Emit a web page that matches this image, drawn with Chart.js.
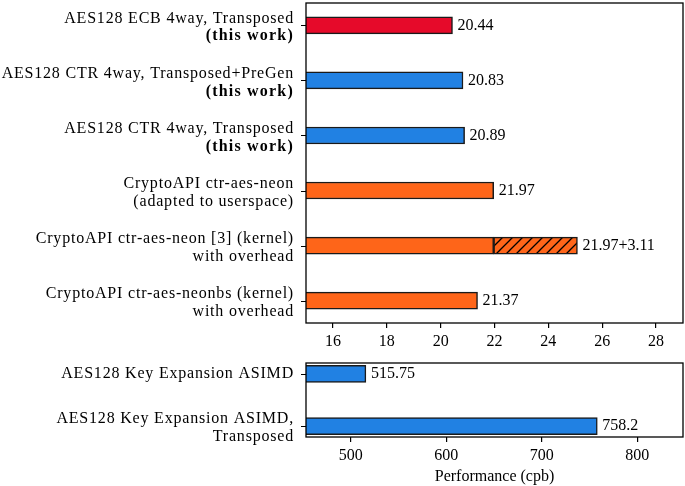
<!DOCTYPE html>
<html lang="en">
<head>
  <meta charset="UTF-8" />
  <title>AES128 performance</title>
  <script src="https://cdn.jsdelivr.net/npm/chart.js"></script>
  <style>
    body { margin: 0; background: #fff; }
    .panel { position: absolute; left: 0; }
  </style>
</head>
<body>
  <div class="panel" style="top:0"><canvas id="topChart" width="685" height="360"></canvas></div>
  <div class="panel" style="top:360px"><canvas id="bottomChart" width="685" height="126"></canvas></div>

  <script>
    // Daten (oberes Panel)
    const topLabels = [
      ['AES128 ECB 4way, Transposed', '(this work)'],
      ['AES128 CTR 4way, Transposed+PreGen', '(this work)'],
      ['AES128 CTR 4way, Transposed', '(this work)'],
      ['CryptoAPI ctr-aes-neon', '(adapted to userspace)'],
      ['CryptoAPI ctr-aes-neon [3] (kernel)', 'with overhead'],
      ['CryptoAPI ctr-aes-neonbs (kernel)', 'with overhead']
    ];
    const topThisWork = [true, true, true, false, false, false];
    const topValues = [20.44, 20.83, 20.89, 21.97, 21.97, 21.37];
    const overheadIndex = 4;
    const overheadValue = 3.11;
    const topTicks = [16, 18, 20, 22, 24, 26, 28];

    // Daten (unteres Panel)
    const bottomLabels = [
      ['AES128 Key Expansion ASIMD'],
      ['AES128 Key Expansion ASIMD,', 'Transposed']
    ];
    const bottomValues = [515.75, 758.2];
    const bottomTicks = [500, 600, 700, 800];

    const RED = '#e60a2a', BLUE = '#2181e3', ORANGE = '#fe6519', EDGE = '#1a1a1a';
    const topColors = [RED, BLUE, BLUE, ORANGE, ORANGE, ORANGE];
    const FONT = '"Liberation Serif", "Times New Roman", serif';

    // Schraffur fuer den Overhead-Anteil
    function hatchPattern() {
      const c = document.createElement('canvas');
      c.width = 10; c.height = 10;
      const g = c.getContext('2d');
      g.fillStyle = ORANGE;
      g.fillRect(0, 0, 10, 10);
      g.strokeStyle = '#000';
      g.lineWidth = 1.3;
      g.beginPath();
      g.moveTo(0, 10); g.lineTo(10, 0);
      g.moveTo(-1, 1); g.lineTo(1, -1);
      g.moveTo(9, 11); g.lineTo(11, 9);
      g.stroke();
      return g.createPattern(c, 'repeat');
    }

    // Rahmen, Kategorienbeschriftung und Werte
    const annotate = {
      id: 'annotate',
      afterDatasetsDraw(chart, args, opts) {
        const { ctx, chartArea: a, scales } = chart;
        ctx.save();
        ctx.strokeStyle = '#000';
        ctx.lineWidth = 1.3;
        ctx.strokeRect(a.left, a.top, a.right - a.left, a.bottom - a.top);

        // Tickstriche links
        ctx.lineWidth = 1.2;
        ctx.beginPath();
        opts.labels.forEach((_, i) => {
          const y = Math.round(scales.y.getPixelForValue(i)) + 0.5;
          ctx.moveTo(a.left - 5, y);
          ctx.lineTo(a.left, y);
        });
        ctx.stroke();

        ctx.fillStyle = '#000';
        ctx.textBaseline = 'middle';
        ctx.textAlign = 'right';
        opts.labels.forEach((lines, i) => {
          const y = scales.y.getPixelForValue(i);
          ctx.font = '16px ' + FONT;
          ctx.letterSpacing = '0.8px';
          if (lines.length === 1) {
            ctx.fillText(lines[0], 294, y);
          } else {
            ctx.fillText(lines[0], 294, y - 7);
            const bold = opts.bold && opts.bold[i];
            ctx.font = (bold ? 'bold ' : '') + '16px ' + FONT;
            ctx.letterSpacing = bold ? '1.2px' : '0.8px';
            ctx.fillText(lines[1], 294, y + 11);
          }
        });

        ctx.letterSpacing = '0px';
        ctx.textAlign = 'left';
        ctx.font = '16px ' + FONT;
        opts.ends.forEach((v, i) => {
          const x = scales.x.getPixelForValue(v);
          const y = scales.y.getPixelForValue(i);
          ctx.fillText(opts.texts[i], x + 5, y);
        });
        ctx.restore();
      }
    };

    function baseScales(xMin, xMax, xTicks, yInfo, xHeight, withTitle) {
      const grid = { drawOnChartArea: false, drawTicks: true, tickLength: 5, color: '#000', lineWidth: 1.2, offset: false };
      return {
        x: {
          type: 'linear', min: xMin, max: xMax, bounds: 'data', offset: false,
          afterBuildTicks: s => { s.ticks = xTicks.map(v => ({ value: v })); },
          afterFit: s => { s.height = xHeight; },
          grid: grid,
          border: { display: false },
          ticks: { color: '#000', font: { family: FONT, size: 16 }, padding: 4, maxRotation: 0 },
          title: {
            display: withTitle, text: 'Performance (cpb)', color: '#000',
            font: { family: FONT, size: 16 }, padding: { top: 0, bottom: 0 }
          }
        },
        y: {
          type: 'linear', reverse: true, bounds: 'data', offset: false,
          min: -yInfo.pad, max: yInfo.n - 1 + yInfo.pad,
          afterBuildTicks: s => { s.ticks = Array.from({ length: yInfo.n }, (_, i) => ({ value: i })); },
          afterFit: s => { s.width = 306; },
          grid: { display: false },
          border: { display: false },
          ticks: { display: false }
        }
      };
    }

    const barStyle = { borderColor: EDGE, borderWidth: 1.5, borderSkipped: false, barThickness: 17, grouped: false };

    // Oberes Panel
    new Chart(document.getElementById('topChart'), {
      type: 'bar',
      data: {
        datasets: [
          Object.assign({
            data: topValues.map((v, i) => ({ x: v, y: i })),
            backgroundColor: topColors
          }, barStyle),
          Object.assign({
            data: [{ x: [topValues[overheadIndex], topValues[overheadIndex] + overheadValue], y: overheadIndex }],
            backgroundColor: hatchPattern()
          }, barStyle)
        ]
      },
      options: {
        indexAxis: 'y',
        responsive: false,
        animation: false,
        layout: { padding: { top: 3, right: 2, left: 0, bottom: 0 } },
        scales: baseScales(15, 29, topTicks, { n: topValues.length, pad: 0.405 }, 37, false),
        plugins: {
          legend: { display: false },
          tooltip: { enabled: false },
          annotate: {
            labels: topLabels,
            bold: topThisWork,
            ends: topValues.map((v, i) => i === overheadIndex ? v + overheadValue : v),
            texts: topValues.map((v, i) => i === overheadIndex ? v + '+' + overheadValue : String(v))
          }
        }
      },
      plugins: [annotate]
    });

    // Unteres Panel
    new Chart(document.getElementById('bottomChart'), {
      type: 'bar',
      data: {
        datasets: [Object.assign({
          data: bottomValues.map((v, i) => ({ x: v, y: i })),
          backgroundColor: BLUE
        }, barStyle)]
      },
      options: {
        indexAxis: 'y',
        responsive: false,
        animation: false,
        layout: { padding: { top: 3, right: 2, left: 0, bottom: 0 } },
        scales: baseScales(453, 848, bottomTicks, { n: bottomValues.length, pad: 0.21 }, 49, true),
        plugins: {
          legend: { display: false },
          tooltip: { enabled: false },
          annotate: {
            labels: bottomLabels,
            ends: bottomValues,
            texts: bottomValues.map(v => String(v))
          }
        }
      },
      plugins: [annotate]
    });
  </script>
</body>
</html>
